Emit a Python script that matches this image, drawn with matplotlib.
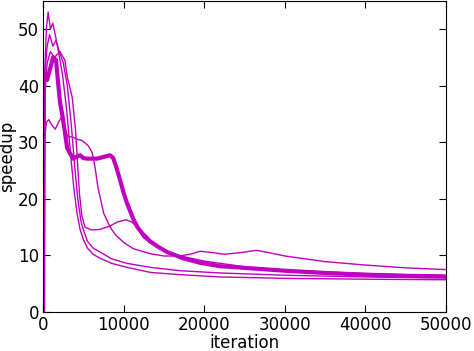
import numpy as np
import matplotlib
matplotlib.use("Agg")
import matplotlib.pyplot as plt

# thick run
thick_x = [0, 100, 300, 500, 870, 1240, 1600, 1860, 2100, 2360, 2730, 2980, 3350, 3720, 4200, 4590,
           5000, 5460, 6700, 7500, 8310, 8700, 9100, 9550, 10000, 10420, 11170, 11700, 12300, 13270,
           14300, 15380, 17370, 19480, 21960, 25000, 30000, 35000, 40000, 45000, 50000]
thick_y = [0, 42, 42, 41, 43, 45, 44.5, 40.5, 37, 35, 31.5, 29, 28, 27.1, 27.5, 27.7,
           27.2, 27.1, 27.1, 27.4, 27.7, 27.2, 25.5, 23.3, 21, 19.2, 16.5, 15, 13.9, 12.5,
           11.5, 10.6, 9.5, 8.7, 8.1, 7.8, 7.3, 6.9, 6.6, 6.4, 6.3]

# thin runs
l1_x = [0, 150, 400, 620, 900, 1200, 1500, 1900, 2400, 2900, 3400, 3800, 4200, 4600, 5000, 5500,
        6200, 7070, 8500, 10400, 13300, 17000, 22000, 30000, 40000, 50000]
l1_y = [0, 40, 50, 53, 50, 51, 49, 46, 42, 36, 28, 22, 17.5, 14.5, 12.8, 11.3,
        10.2, 9.5, 8.6, 7.9, 7.0, 6.6, 6.2, 5.95, 5.8, 5.7]

l2_x = [0, 200, 500, 800, 1200, 1600, 2000, 2500, 3000, 3500, 3900, 4300, 4700, 5000, 5500,
        6200, 7070, 8500, 10400, 13300, 17000, 22000, 30000, 40000, 50000]
l2_y = [0, 42, 47, 49, 47, 48, 46, 44, 40, 33, 26, 20, 16, 14.5, 12.5,
        11.3, 10.6, 9.4, 8.6, 7.9, 7.3, 6.9, 6.5, 6.2, 6.0]

l3_x = [0, 200, 500, 900, 1400, 2100, 2700, 3000, 3600, 4000, 4200, 4500, 4800, 5200, 6000,
        7070, 8300, 9200, 10300, 11000, 11700, 12400, 13300, 14500, 15400, 17400, 20000, 25000,
        30000, 40000, 50000]
l3_y = [0, 38, 44, 46, 45, 46, 44.5, 41.5, 38, 32.5, 28, 21, 17, 15, 14.5,
        14.6, 15.2, 15.9, 16.3, 15.9, 15, 13.2, 12.2, 11.3, 10.5, 9.8, 9.0, 8.0,
        7.4, 6.8, 6.4]

l4_x = [0, 150, 400, 700, 1100, 1500, 1900, 2300, 2700, 3100, 3700, 4300, 4840, 5580, 6080,
        6450, 6800, 7070, 7500, 8310, 9000, 10000, 11170, 13300, 15000, 17000, 18500, 19500,
        21000, 22500, 24500, 26500, 28000, 30000, 35000, 40000, 45000, 50000]
l4_y = [0, 30, 33.5, 34, 33, 32.3, 33.5, 34.5, 32, 31, 30.9, 30.5, 30.3, 29.4, 28.2,
        25.5, 22, 20.3, 17.5, 15, 13.6, 12.3, 11.2, 10.3, 9.9, 9.9, 10.3, 10.75,
        10.5, 10.2, 10.5, 10.9, 10.5, 9.9, 8.9, 8.3, 7.8, 7.5]

col = '#c000c0'

fig = plt.figure(figsize=(4.74, 3.51), dpi=100)
ax = fig.add_axes([0.091, 0.111, 0.85, 0.887])

for xs, ys in [(l1_x, l1_y), (l2_x, l2_y), (l3_x, l3_y), (l4_x, l4_y)]:
    ax.plot(xs, ys, color=col, lw=1.0)
ax.plot(thick_x, thick_y, color=col, lw=3.0)

ax.set_xlim(0, 50000)
ax.set_ylim(0, 55)
ax.set_xticks([0, 10000, 20000, 30000, 40000, 50000])
ax.set_yticks([0, 10, 20, 30, 40, 50])
ax.tick_params(direction='in', top=True, right=True, labelsize=12, length=5, pad=3)
ax.set_xlabel('iteration', fontsize=12, labelpad=0)
ax.set_ylabel('speedup', fontsize=12, labelpad=1)

fig.savefig('out.png', dpi=100)
